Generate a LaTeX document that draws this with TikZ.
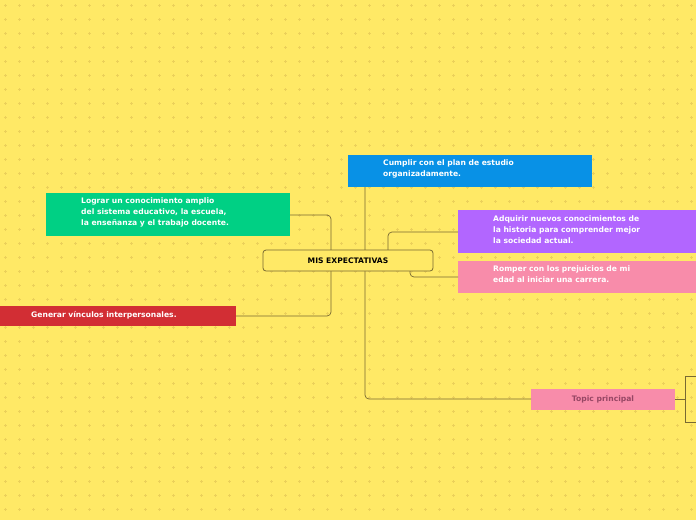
\documentclass[tikz,border=0pt]{standalone}
\usepackage{fontspec}
\setmainfont{DejaVu Sans}
\definecolor{bg}{RGB}{255,233,102}
\definecolor{dotc}{RGB}{235,208,90}
\definecolor{lin}{RGB}{120,105,50}
\definecolor{cblue}{RGB}{8,145,230}
\definecolor{cgreen}{RGB}{0,208,132}
\definecolor{cred}{RGB}{210,46,52}
\definecolor{cpurple}{RGB}{178,102,255}
\definecolor{cpink}{RGB}{248,140,170}
\definecolor{ctopic}{RGB}{150,70,100}
\begin{document}
\begin{tikzpicture}[x=1pt,y=-1pt,
  txt/.style={font=\bfseries\fontsize{7.6}{11}\selectfont,align=left,anchor=north west,inner sep=0pt,text=white},
  conn/.style={draw=lin,line width=0.7pt,rounded corners=4pt}]
\fill[bg] (0,0) rectangle (696,520);
\useasboundingbox (0,0) rectangle (696,520);
\foreach \i in {0,...,49}{\foreach \j in {0,...,37}{
  \fill[dotc] (5+\i*14-1.5,5+\j*14-0.3) rectangle (5+\i*14+1.5,5+\j*14+0.3);
  \fill[dotc] (5+\i*14-0.3,5+\j*14-1.5) rectangle (5+\i*14+0.3,5+\j*14+1.5);}}
% boxes
\fill[cblue] (348,155) rectangle (592,187);
\node[txt] (blue) at (383,160) {Cumplir con el plan de estudio\\organizadamente.};
\fill[cgreen] (46,193) rectangle (290,236);
\node[txt] (green) at (81,198) {Lograr un conocimiento amplio\\del sistema educativo, la escuela,\\la enseñanza y el trabajo docente.};
\fill[cred] (0,306) rectangle (236,326);
\node[txt] (red) at (31,311) {Generar vínculos interpersonales.};
\fill[cpurple] (458,210) rectangle (696,253);
\node[txt] (purple) at (493,216) {Adquirir nuevos conocimientos de\\la historia para comprender mejor\\la sociedad actual.};
\fill[cpink] (458,261) rectangle (696,293);
\node[txt] (pink) at (493,266) {Romper con los prejuicios de mi\\edad al iniciar una carrera.};
\fill[cpink] (531,389) rectangle (675,410);
\node[font=\bfseries\fontsize{7.6}{11}\selectfont,text=ctopic] (topic) at (603,399.5) {Topic principal};
% connectors
\draw[conn] (365,187) -- (365,399) -- (531,399);
\draw[conn] (290,215) -- (331,215) -- (331,316) -- (236,316);
\draw[conn] (388,250) -- (388,232) -- (458,232);
\draw[conn] (410,271) -- (410,277) -- (458,277);
\draw[conn] (675,399) -- (685,399);
\draw[conn,rounded corners=0pt] (696,376) -- (685,376) -- (685,422) -- (696,422);
\draw[fill=bg,draw=lin,line width=0.8pt,rounded corners=3pt] (263,250) rectangle (433,271);
\node[font=\bfseries\fontsize{7.6}{11}\selectfont] (center) at (348,261) {MIS EXPECTATIVAS};
\end{tikzpicture}
\end{document}
